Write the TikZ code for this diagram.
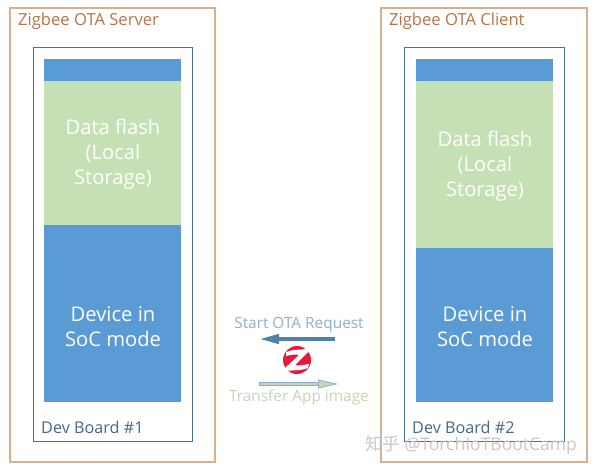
\documentclass[tikz,border=0pt]{standalone}
\usepackage{fontspec}
\setmainfont{Open Sans}
\newfontfamily\cjkfont{Noto Sans CJK SC}
\usetikzlibrary{arrows.meta}
\definecolor{boxorange}{HTML}{D9B08F}
\definecolor{titleorange}{HTML}{B5744A}
\definecolor{boardline}{HTML}{41719C}
\definecolor{boardtext}{HTML}{44678A}
\definecolor{socblue}{HTML}{5B9BD5}
\definecolor{flashgreen}{HTML}{C5E0B4}
\definecolor{reqblue}{HTML}{8FB0CC}
\definecolor{arrowblue}{HTML}{4F81AD}
\definecolor{appgreen}{HTML}{C3D6B4}
\definecolor{zigred}{HTML}{E8183F}
\tikzset{
  outerbox/.style = {draw = boxorange, line width = 1.2pt},
  boardbox/.style = {draw = boardline, line width = 1pt},
  blockfill/.style = {align = center, text = white, font = \fontsize{20.2}{24.8}\selectfont},
  boxtitle/.style = {anchor = west, text = titleorange, font = \fontsize{16.6}{19}\selectfont},
  boardtitle/.style = {anchor = west, text = boardtext, font = \fontsize{16.2}{19}\selectfont},
  linktext/.style = {font = \fontsize{15.4}{18}\selectfont}
}
\begin{document}
\begin{tikzpicture}[x = 1pt, y = -1pt]
  \useasboundingbox (0, 0) rectangle (600, 472);

  % server side
  \draw[outerbox] (10, 8) rectangle (215, 462);
  \draw[boardbox] (33, 47) rectangle (192, 441);
  \fill[socblue] (44, 59) rectangle (181, 81);
  \fill[flashgreen] (44, 81) rectangle (181, 225);
  \fill[socblue] (44, 225) rectangle (181, 402);
  \node[boxtitle, inner sep = 0] (servertitle) at (18, 21) {Zigbee OTA Server};
  \node[boardtitle, inner sep = 0] (boardone) at (41, 427) {Dev Board \#1};
  \node[blockfill] (flashone) at (113, 154) {Data flash\\(Local\\Storage)};
  \node[blockfill] (socone) at (113, 327) {Device in\\SoC mode};

  % client side
  \draw[outerbox] (381, 8) rectangle (587, 462);
  \draw[boardbox] (404, 47) rectangle (564, 441);
  \fill[socblue] (416, 59) rectangle (553, 81);
  \fill[flashgreen] (416, 81) rectangle (553, 248);
  \fill[socblue] (416, 248) rectangle (553, 402);
  \node[boxtitle, inner sep = 0] (clienttitle) at (389, 21) {Zigbee OTA Client};
  \node[boardtitle, inner sep = 0] (boardtwo) at (412, 427) {Dev Board \#2};
  \node[blockfill] (flashtwo) at (485, 166) {Data flash\\(Local\\Storage)};
  \node[blockfill] (soctwo) at (485, 327) {Device in\\SoC mode};

  % link between the boards
  \node[linktext, text = reqblue] (reqtext) at (299, 325) {Start OTA Request};
  \node[linktext, text = appgreen] (apptext) at (299, 397) {Transfer App image};

  \coordinate (reqstart) at (335, 339);
  \coordinate (reqend) at (259, 339);
  \draw[arrowblue, line width = 4pt, -{Triangle[length = 20pt, width = 9pt]}] (reqstart) -- (reqend);

  \coordinate (appstart) at (259, 384);
  \coordinate (append) at (338, 384);
  \draw[reqblue, line width = 4.5pt, -{Triangle[length = 20pt, width = 9pt, line width = 0.8pt, fill = appgreen]}] (appstart) -- (append);
  \draw[appgreen, line width = 2.5pt] (260, 384) -- (318, 384);

  % logo
  \fill[zigred] (297, 360) circle (14);
  \fill[white] (286, 352) .. controls (293, 349) and (301, 350) .. (307, 349)
    -- (308, 352) -- (295, 365) .. controls (299, 366) and (304, 365) .. (309, 364)
    -- (308, 368) .. controls (300, 371) and (293, 370) .. (285, 371)
    -- (285, 368) -- (299, 355) .. controls (295, 354) and (290, 355) .. (286, 356) -- cycle;

  % watermark
  \node[text = white!78!black, font = \fontsize{17.5}{20}\selectfont, inner sep = 0] (mark) at (471, 445)
    {{\cjkfont 知乎} @TorchIoTBootCamp};
\end{tikzpicture}
\end{document}
